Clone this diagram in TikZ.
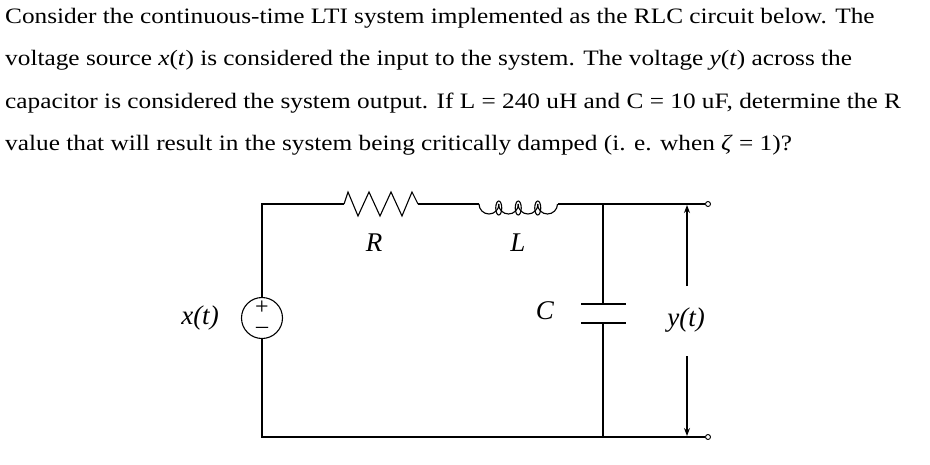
\documentclass[tikz,border=0pt]{standalone}
\usepackage{fontspec}
\setmainfont{Liberation Serif}
\newfontfamily\wideserif{Liberation Serif}[FakeStretch=1.15]
\usetikzlibrary{arrows.meta}
\begin{document}
\begin{tikzpicture}[x=1pt,y=-1pt,
  txt/.style={anchor=west,inner sep=0pt,font=\wideserif\fontsize{22}{24}\selectfont},
  lbl/.style={inner sep=0pt,font=\fontsize{27}{30}\selectfont\itshape},
  wire/.style={line width=1.1pt},
  term/.style={circle,draw,line width=0.9pt,inner sep=0pt,minimum size=5pt,fill=white}]
\useasboundingbox (0,0) rectangle (930,464);
\node[txt] (t1) at (5,18) {Consider the continuous-time LTI system implemented as the RLC circuit below. The};
\node[txt] (t2) at (5,60) {voltage source \textit{x}(\textit{t}) is considered the input to the system. The voltage \textit{y}(\textit{t}) across the};
\node[txt] (t3) at (5,103) {capacitor is considered the system output. If L = 240 uH and C = 10 uF, determine the R};
\node[txt] (t4) at (5,145) {value that will result in the system being critically damped (i. e. when \textit{ζ} = 1)?};
% coordinates
\coordinate (tl) at (262,204);
\coordinate (bl) at (262,437);
\coordinate (r1) at (344,204);
\coordinate (r2) at (418,204);
\coordinate (l1) at (479,204);
\coordinate (l2) at (558,204);
\coordinate (ct) at (603,204);
\coordinate (cb) at (603,437);
\coordinate (cp1) at (603,304);
\coordinate (cp2) at (603,323);
\node[circle,draw,line width=1.1pt,minimum size=41pt,inner sep=0pt] (src) at (262,318) {};
\node[font=\fontsize{24}{24}\selectfont,inner sep=0pt] (plus) at (262,308) {+};
\node[font=\fontsize{24}{24}\selectfont,inner sep=0pt] (minus) at (262,330) {--};
\node[term] (o1) at (708,204) {};
\node[term] (o2) at (708,437) {};
\draw[wire] (src.north) -- (tl) -- (r1);
\draw[wire] (r1) -- ++(4,-12) -- ++(10,24) -- ++(11,-24) -- ++(11,24) -- ++(11,-24) -- ++(11,24) -- ++(10,-24) -- ++(6,12) -- (r2);
\draw[wire] (r2) -- (l1);
\foreach \c in {489,508.5,528,547.5}
  \draw[wire] (\c-10,204) arc[start angle=180,end angle=0,radius=10];
\foreach \c in {498.75,518.25,537.75}
  \draw[wire] (\c,208) ellipse[x radius=3,y radius=7];
\draw[wire] (l2) -- (o1.west);
\draw[wire] (src.south) -- (bl) -- (o2.west);
\draw[wire] (ct) -- (cp1);
\draw[wire] (cp2) -- (cb);
\draw[line width=1.5pt] (581,304) -- (626,304);
\draw[line width=1.5pt] (581,323) -- (626,323);
\coordinate (a1) at (687,286);
\coordinate (a2) at (687,356);
\draw[wire,-{Stealth[length=8pt,width=6pt]}] (a1) -- (687,205);
\draw[wire,-{Stealth[length=8pt,width=6pt]}] (a2) -- (687,436);
\node[lbl] (R) at (374,243) {R};
\node[lbl] (L) at (518,243) {L};
\node[lbl] (C) at (545,311) {C};
\node[lbl] (x) at (200,318) {x(t)};
\node[lbl] (y) at (686,320) {y(t)};
\end{tikzpicture}
\end{document}
